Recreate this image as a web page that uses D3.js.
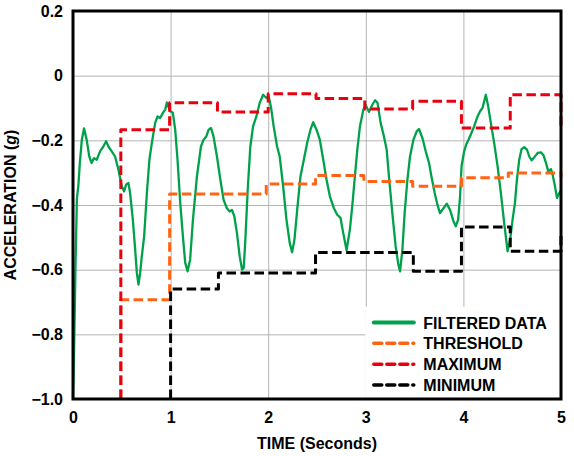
<!DOCTYPE html>
<html>
<head>
<meta charset="utf-8">
<script src="https://cdn.jsdelivr.net/npm/d3@7"></script>
<style>
  body { margin: 0; background: #fff; }
  text { font-family: "Liberation Sans", Arial, sans-serif; font-weight: bold; fill: #000; }
</style>
</head>
<body>
<div id="chart"></div>
<script>
// filtered accelerometer trace (time in s, acceleration in g)
const filteredTime = [0, 0.01, 0.025, 0.04, 0.055, 0.07, 0.09, 0.113, 0.14, 0.167, 0.19, 0.215, 0.243, 0.277, 0.311, 0.339,
  0.363, 0.397, 0.431, 0.465, 0.5, 0.524, 0.544, 0.568, 0.585, 0.613, 0.637, 0.654, 0.671, 0.688, 0.705, 0.729,
  0.757, 0.783, 0.808, 0.842, 0.866, 0.893, 0.921, 0.945, 0.962, 0.996, 1.023, 1.047, 1.071, 1.099, 1.126, 1.15,
  1.174, 1.2, 1.229, 1.27, 1.311, 1.338, 1.366, 1.39, 1.414, 1.44, 1.475, 1.51, 1.543, 1.577, 1.605, 1.629,
  1.653, 1.68, 1.708, 1.732, 1.749, 1.766, 1.79, 1.817, 1.845, 1.879, 1.913, 1.948, 1.982, 2.005, 2.03, 2.056,
  2.091, 2.118, 2.153, 2.187, 2.221, 2.245, 2.269, 2.297, 2.331, 2.365, 2.399, 2.433, 2.461, 2.495, 2.529, 2.564,
  2.598, 2.632, 2.673, 2.707, 2.741, 2.769, 2.803, 2.837, 2.861, 2.885, 2.913, 2.94, 2.975, 2.998, 3.032, 3.067,
  3.095, 3.12, 3.152, 3.186, 3.214, 3.237, 3.272, 3.306, 3.334, 3.351, 3.375, 3.398, 3.426, 3.453, 3.488, 3.522,
  3.545, 3.58, 3.614, 3.648, 3.672, 3.706, 3.734, 3.76, 3.796, 3.83, 3.863, 3.898, 3.922, 3.946, 3.966, 3.981,
  4.007, 4.03, 4.05, 4.076, 4.11, 4.145, 4.171, 4.196, 4.213, 4.23, 4.254, 4.281, 4.315, 4.35, 4.384, 4.418,
  4.453, 4.479, 4.504, 4.528, 4.548, 4.572, 4.596, 4.623, 4.651, 4.675, 4.7, 4.727, 4.761, 4.795, 4.822, 4.846,
  4.87, 4.897, 4.914, 4.938, 4.959, 4.983, 5.0];
const filteredValue = [-1.0, -0.87, -0.6, -0.38, -0.34, -0.27, -0.2, -0.163, -0.198, -0.25, -0.27, -0.255, -0.26, -0.234, -0.219, -0.203,
  -0.219, -0.234, -0.25, -0.29, -0.342, -0.358, -0.337, -0.332, -0.363, -0.445, -0.538, -0.61, -0.646, -0.61, -0.559, -0.497,
  -0.363, -0.26, -0.208, -0.146, -0.126, -0.131, -0.115, -0.105, -0.083, -0.11, -0.115, -0.167, -0.26, -0.394, -0.497, -0.579,
  -0.605, -0.569, -0.445, -0.311, -0.219, -0.198, -0.188, -0.167, -0.162, -0.188, -0.25, -0.322, -0.384, -0.41, -0.42, -0.415,
  -0.435, -0.487, -0.559, -0.6, -0.595, -0.507, -0.353, -0.219, -0.157, -0.126, -0.084, -0.059, -0.069, -0.064, -0.1, -0.157,
  -0.219, -0.25, -0.342, -0.445, -0.518, -0.546, -0.507, -0.415, -0.311, -0.26, -0.208, -0.167, -0.144, -0.167, -0.198, -0.26,
  -0.322, -0.373, -0.41, -0.43, -0.44, -0.487, -0.54, -0.476, -0.404, -0.322, -0.229, -0.157, -0.105, -0.09, -0.112, -0.09,
  -0.076, -0.084, -0.146, -0.188, -0.229, -0.311, -0.425, -0.528, -0.585, -0.605, -0.538, -0.425, -0.322, -0.25, -0.198, -0.172,
  -0.165, -0.193, -0.234, -0.27, -0.311, -0.363, -0.399, -0.425, -0.41, -0.396, -0.415, -0.45, -0.466, -0.445, -0.373, -0.28,
  -0.235, -0.212, -0.2, -0.182, -0.157, -0.126, -0.11, -0.1, -0.079, -0.059, -0.095, -0.146, -0.208, -0.28, -0.363, -0.456,
  -0.543, -0.507, -0.445, -0.394, -0.322, -0.26, -0.227, -0.221, -0.229, -0.25, -0.262, -0.252, -0.239, -0.237, -0.247, -0.27,
  -0.296, -0.289, -0.306, -0.342, -0.378, -0.363, -0.355];

// step traces: each level holds from its time until the next one
const thresholdTime = [0.49, 0.49, 0.99, 1.98, 2.485, 2.98, 3.48, 3.98, 4.46, 5.0];
const thresholdValue = [-1.0, -0.693, -0.366, -0.335, -0.309, -0.327, -0.342, -0.316, -0.301, -0.316];
const maximumTime = [0.49, 0.49, 0.99, 1.48, 2.0, 2.49, 2.99, 3.48, 3.98, 4.48, 5.0];
const maximumValue = [-1.0, -0.167, -0.084, -0.112, -0.056, -0.071, -0.103, -0.079, -0.162, -0.059, -0.158];
const minimumTime = [1.0, 1.0, 1.49, 2.485, 3.487, 3.98, 4.48, 5.0];
const minimumValue = [-1.0, -0.66, -0.61, -0.547, -0.605, -0.468, -0.543, -0.487];

const xTicks = [0, 1, 2, 3, 4, 5];
const yTicks = [0.2, 0, -0.2, -0.4, -0.6, -0.8, -1.0];
const legendNames = ['FILTERED DATA', 'THRESHOLD', 'MAXIMUM', 'MINIMUM'];

const width = 574;
const height = 456;
const margin = { top: 11, bottom: 57, left: 73, right: 13 };
const chartWidth = width - margin.left - margin.right;
const chartHeight = height - margin.top - margin.bottom;

const svg = d3.select('#chart')
  .append('svg')
  .attr('width', width)
  .attr('height', height);

const chart = svg.append('g')
  .attr('transform', `translate(${margin.left},${margin.top})`);

const xScale = d3.scaleLinear().domain([0, 5]).range([0, chartWidth]);
const yScale = d3.scaleLinear().domain([-1.0, 0.2]).range([chartHeight, 0]);

// gridlines
chart.append('g')
  .call(d3.axisLeft(yScale).tickValues(yTicks).tickSize(-chartWidth).tickFormat(''))
  .call(g => g.select('.domain').remove())
  .selectAll('line').attr('stroke', '#b4b4b4').attr('stroke-width', 1);
chart.append('g')
  .attr('transform', `translate(0,${chartHeight})`)
  .call(d3.axisBottom(xScale).tickValues(xTicks).tickSize(-chartHeight).tickFormat(''))
  .call(g => g.select('.domain').remove())
  .selectAll('line').attr('stroke', '#b4b4b4').attr('stroke-width', 1);

// tick labels
const fmt = d => d === 0 ? '0' : (d < 0 ? '\u2212' : '') + Math.abs(d).toFixed(1);
chart.append('g')
  .call(d3.axisLeft(yScale).tickValues(yTicks).tickSize(0).tickPadding(10).tickFormat(fmt))
  .call(g => g.select('.domain').remove())
  .selectAll('text').style('font-size', '16px').attr('fill', '#000');
chart.append('g')
  .attr('transform', `translate(0,${chartHeight})`)
  .call(d3.axisBottom(xScale).tickValues(xTicks).tickSize(0).tickPadding(13).tickFormat(d3.format('d')))
  .call(g => g.select('.domain').remove())
  .selectAll('text').style('font-size', '16px').attr('fill', '#000');

// legend background hides the grid
const legendTop = yScale(-0.715);
const legend = chart.append('g')
  .attr('transform', `translate(${xScale(3.0)},${legendTop})`);
legend.append('rect')
  .attr('x', -0.5)
  .attr('y', 0)
  .attr('width', chartWidth - xScale(3.0) + 1)
  .attr('height', chartHeight - legendTop + 1)
  .attr('fill', '#fff');

const series = [
  { t: filteredTime, v: filteredValue, color: '#00a14b', width: 2.3, dash: null, curve: d3.curveLinear },
  { t: thresholdTime, v: thresholdValue, color: '#ff6414', width: 3, dash: '9.5,4.5', curve: d3.curveStepAfter },
  { t: maximumTime, v: maximumValue, color: '#e8000f', width: 3, dash: '9.5,4.5', curve: d3.curveStepAfter },
  { t: minimumTime, v: minimumValue, color: '#000000', width: 3, dash: '9.5,4.5', curve: d3.curveStepAfter }
];

series.forEach(s => {
  const line = d3.line()
    .x((d, i) => xScale(s.t[i]))
    .y(d => yScale(d))
    .curve(s.curve);
  chart.append('path')
    .datum(s.v)
    .attr('d', line)
    .attr('fill', 'none')
    .attr('stroke', s.color)
    .attr('stroke-width', s.width)
    .attr('stroke-dasharray', s.dash)
    .attr('stroke-linejoin', 'round');
});

// legend entries
legendNames.forEach((name, i) => {
  const s = series[i];
  const y = 15.7 + i * 20.8;
  legend.append('line')
    .attr('x1', 8).attr('x2', 48)
    .attr('y1', y).attr('y2', y)
    .attr('stroke', s.color)
    .attr('stroke-width', i === 0 ? 4 : 3.5)
    .attr('stroke-linecap', 'round')
    .attr('stroke-dasharray', i === 0 ? null : '8,5');
  legend.append('text')
    .attr('x', 57.5)
    .attr('y', y + 6)
    .style('font-size', '16px')
    .text(name);
});

// plot frame
chart.append('rect')
  .attr('x', 0).attr('y', 0)
  .attr('width', chartWidth).attr('height', chartHeight)
  .attr('fill', 'none')
  .attr('stroke', '#000')
  .attr('stroke-width', 3);

// axis titles
chart.append('text')
  .attr('x', chartWidth / 2)
  .attr('y', chartHeight + 50)
  .style('font-size', '16px')
  .style('text-anchor', 'middle')
  .text('TIME (Seconds)');

const yTitle = svg.append('text')
  .attr('transform', `translate(16, ${margin.top + yScale(-0.4)}) rotate(-90)`)
  .style('font-size', '16px')
  .style('text-anchor', 'middle');
yTitle.append('tspan').text('ACCELERATION (');
yTitle.append('tspan').style('font-style', 'italic').text('g');
yTitle.append('tspan').text(')');
</script>
</body>
</html>
